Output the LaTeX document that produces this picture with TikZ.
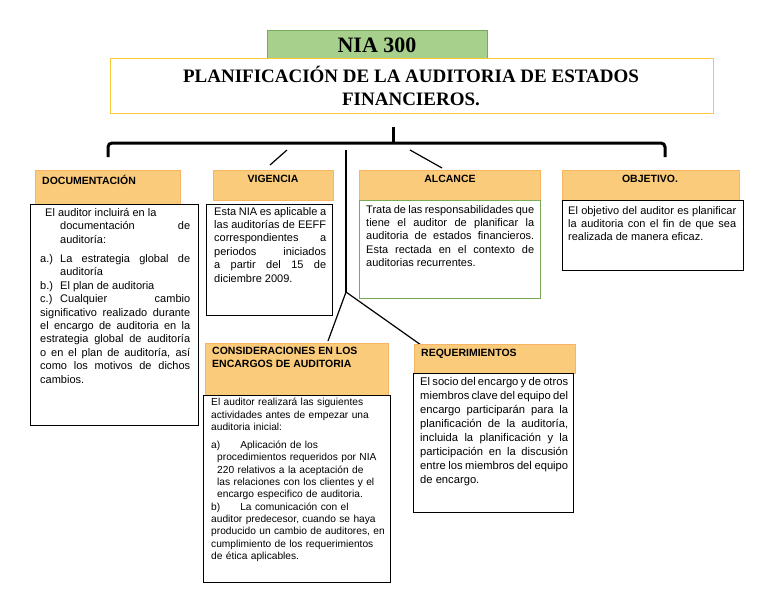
\documentclass[tikz,border=0pt]{standalone}
\usepackage{fontspec}
\setmainfont{Liberation Sans}
\newfontfamily\serifb{Liberation Serif}
\definecolor{hfill}{RGB}{250,203,122}
\definecolor{hdraw}{RGB}{246,180,100}
\definecolor{gfill}{RGB}{168,208,141}
\definecolor{gdraw}{RGB}{120,170,90}
\definecolor{ydraw}{RGB}{250,200,60}
\hyphenpenalty=10000
\exhyphenpenalty=10000
\begin{document}
\begin{tikzpicture}[x=1pt,y=-1pt,
 hdr/.style={draw=hdraw,fill=hfill,line width=0.6pt},
 bodybox/.style={draw=black,fill=white,line width=0.7pt},
 htxt/.style={anchor=north west,font=\fontsize{10.5}{13}\selectfont\bfseries,inner sep=0pt,align=left},
 btxt/.style={anchor=north west,font=\fontsize{11}{13.4}\selectfont,inner sep=0pt,align=justify},
 con/.style={line width=1.2pt,black}]
\useasboundingbox (0,0) rectangle (768,594);
% top
\draw[draw=gdraw,fill=gfill] (267,30) rectangle (487,58);
\node[font=\serifb\fontsize{22}{24}\selectfont\bfseries] (nia) at (377,45) {NIA 300};
\draw[draw=ydraw,fill=white,line width=0.8pt] (110,58) rectangle (713,113);
\node[align=center,font=\serifb\fontsize{19}{23}\selectfont\bfseries] (title) at (411,86) {PLANIFICACIÓN DE LA AUDITORIA DE ESTADOS\\FINANCIEROS.};
% bracket
\draw[line width=3pt,rounded corners=4pt] (108,157) -- (108,143) -- (665,143) -- (665,157);
\draw[line width=3pt] (393,127) -- (393,143);
\coordinate (s1a) at (287,150); \coordinate (s1b) at (270,165);
\coordinate (s2a) at (410,150); \coordinate (s2b) at (442,168);
\draw[con] (s1a) -- (s1b);
\draw[con] (s2a) -- (s2b);
\coordinate (vt) at (346,150); \coordinate (vj) at (346,292);
\coordinate (c1) at (328,341); \coordinate (c2) at (421,345);
\draw[con] (vt) -- (vj);
\draw[con] (vj) -- (c1);
\draw[con] (vj) -- (c2);
% DOCUMENTACION
\draw[hdr] (35,170) rectangle (180,204);
\node[htxt] (h1) at (42,175) {DOCUMENTACIÓN};
\draw[bodybox] (30,204) rectangle (198,425);
\node[btxt,text width=150pt] (b1) at (40,208) {%
\hspace*{5pt}El auditor incluirá en la\par
\leftskip=20pt documentación de auditoría:\par\vspace{6pt}
\leftskip=0pt\parindent=0pt\hangindent=20pt\hangafter=1 \makebox[20pt][l]{a.)}La estrategia global de auditoría\par
\hangindent=20pt\hangafter=1 \makebox[20pt][l]{b.)}El plan de auditoria\par
\hangindent=20pt\hangafter=1 \makebox[20pt][l]{c.)}Cualquier cambio significativo realizado durante el encargo de auditoria en la estrategia global de auditoría o en el plan de auditoría, así como los motivos de dichos cambios.};
% VIGENCIA
\draw[hdr] (213,170) rectangle (333,200);
\node[htxt,anchor=north] (h2) at (273,175) {VIGENCIA};
\draw[bodybox] (206,204) rectangle (332,315);
\node[btxt,text width=112pt] (b2) at (214,207) {Esta NIA es aplicable a las auditorías de EEFF correspondientes a periodos iniciados a partir del 15 de diciembre 2009.};
% ALCANCE
\draw[hdr] (359,170) rectangle (540,200);
\node[htxt,anchor=north] (h3) at (450,175) {ALCANCE};
\draw[draw=gdraw,fill=white,line width=0.7pt] (359,200) rectangle (540,298);
\node[btxt,text width=168pt] (b3) at (366,205) {Trata de las responsabilidades que tiene el auditor de planificar la auditoria de estados financieros. Esta rectada en el contexto de auditorias recurrentes.};
% OBJETIVO
\draw[hdr] (562,170) rectangle (739,200);
\node[htxt,anchor=north] (h4) at (650,175) {OBJETIVO.};
\draw[bodybox] (562,200) rectangle (743,270);
\node[btxt,text width=168pt] (b4) at (568,206) {El objetivo del auditor es planificar la auditoria con el fin de que sea realizada de manera eficaz.};
% CONSIDERACIONES
\draw[hdr] (205,343) rectangle (388,395);
\node[htxt] (h5) at (212,347) {CONSIDERACIONES EN LOS\\ENCARGOS DE AUDITORIA};
\draw[bodybox] (203,395) rectangle (390,582);
\node[btxt,text width=175pt,align=left,font=\fontsize{10.2}{12.3}\selectfont] (b5) at (211,398) {%
El auditor realizará las siguientes actividades antes de empezar una auditoria inicial:\par\vspace{6pt}
\hangindent=6pt\hangafter=1 a)\hspace{20pt}Aplicación de los procedimientos requeridos por NIA 220 relativos a la aceptación de las relaciones con los clientes y el encargo especifico de auditoria.\par
\hangindent=6pt\hangafter=1 b)\hspace{20pt}La comunicación con el auditor predecesor, cuando se haya producido un cambio de auditores, en cumplimiento de los requerimientos de ética aplicables.};
% REQUERIMIENTOS
\draw[hdr] (414,344) rectangle (575,373);
\node[htxt] (h6) at (421,349) {REQUERIMIENTOS};
\draw[bodybox] (413,373) rectangle (573,512);
\node[btxt,text width=148pt,font=\fontsize{11.2}{14}\selectfont] (b6) at (420,377) {El socio del encargo y de otros miembros clave del equipo del encargo participarán para la planificación de la auditoría, incluida la planificación y la participación en la discusión entre los miembros del equipo de encargo.};
\end{tikzpicture}
\end{document}
